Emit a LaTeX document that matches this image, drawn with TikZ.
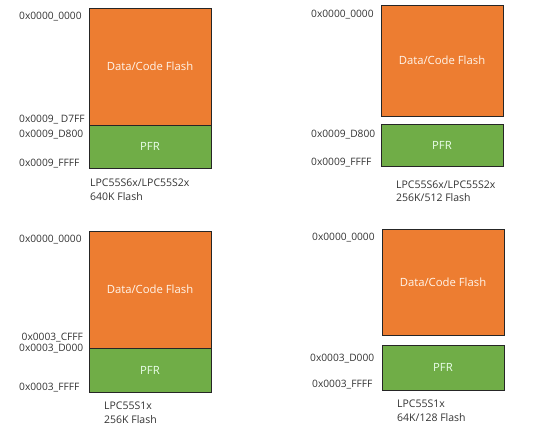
\documentclass[tikz,border=0pt]{standalone}
\usepackage{fontspec}
\setmainfont{Open Sans}
\definecolor{flashorange}{HTML}{ED7D31}
\definecolor{pfrgreen}{HTML}{70AD47}
\begin{document}
\begin{tikzpicture}[x=1pt,y=-1pt,
  flashbox/.style={draw=black!85,line width=0.9pt,fill=flashorange,text=white!92!orange,inner sep=0pt,minimum width=122pt,font=\fontsize{11.3}{13}\selectfont},
  pfrbox/.style={draw=black!85,line width=0.9pt,fill=pfrgreen,text=white!92!green,inner sep=0pt,minimum width=122pt,font=\fontsize{11.3}{13}\selectfont},
  addr/.style={anchor=west,inner sep=0pt,text=black!80,font=\fontsize{10.2}{12}\selectfont},
  caption/.style={anchor=west,inner sep=0pt,align=left,text=black!80,font=\fontsize{10.5}{13.5}\selectfont}]
\useasboundingbox (0,0) rectangle (554,433);
% Panel 1
\node[flashbox,minimum height=117pt] (f1) at (150,66.5) {Data/Code Flash};
\node[pfrbox,minimum height=43pt] (p1) at (150,146.5) {PFR};
\node[addr] (a1a) at (19,17) {0x0000\_0000};
\node[addr] (a1b) at (19,120) {0x0009\_ D7FF};
\node[addr] (a1c) at (19,135) {0x0009\_D800};
\node[addr] (a1d) at (19,164) {0x0009\_FFFF};
\node[caption] (c1) at (90,189.5) {LPC55S6x/LPC55S2x\\640K Flash};
% Panel 2
\node[flashbox,minimum height=111pt] (f2) at (442,60.5) {Data/Code Flash};
\node[pfrbox,minimum height=42pt] (p2) at (442,145) {PFR};
\node[addr] (a2a) at (311,15) {0x0000\_0000};
\node[addr] (a2c) at (311,135) {0x0009\_D800};
\node[addr] (a2d) at (311,162.5) {0x0009\_FFFF};
\node[caption] (c2) at (396,191) {LPC55S6x/LPC55S2x\\256K/512 Flash};
% Panel 3
\node[flashbox,minimum height=117pt] (f3) at (150,289.5) {Data/Code Flash};
\node[pfrbox,minimum height=44pt] (p3) at (150,370) {PFR};
\node[addr] (a3a) at (19,240) {0x0000\_0000};
\node[addr] (a3b) at (21.5,337.5) {0x0003\_CFFF};
\node[addr] (a3c) at (19,348.5) {0x0003\_D000};
\node[addr] (a3d) at (19,387.5) {0x0003\_FFFF};
\node[caption] (c3) at (104,412.5) {LPC55S1x\\256K Flash};
% Panel 4
\node[flashbox,minimum height=106pt] (f4) at (443,282) {Data/Code Flash};
\node[pfrbox,minimum height=45pt] (p4) at (443,367.5) {PFR};
\node[addr] (a4a) at (312,238) {0x0000\_0000};
\node[addr] (a4c) at (310,359) {0x0003\_D000};
\node[addr] (a4d) at (312,385) {0x0003\_FFFF};
\node[caption] (c4) at (397,410.5) {LPC55S1x\\64K/128 Flash};
\end{tikzpicture}
\end{document}
